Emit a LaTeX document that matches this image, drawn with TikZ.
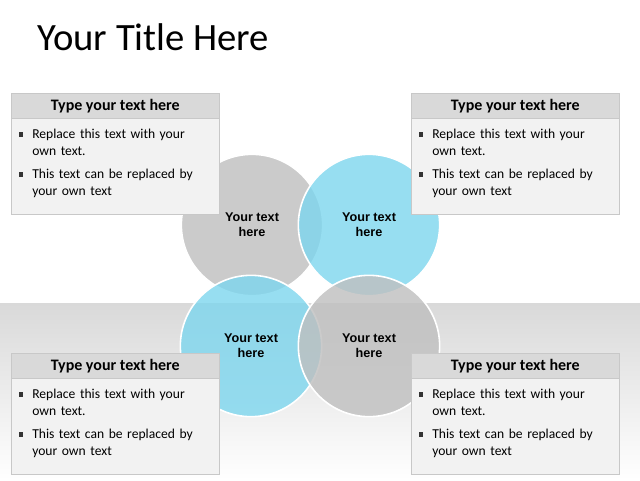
\documentclass[tikz,border=0pt]{standalone}
\usepackage{fontspec}
\setmainfont{Carlito}
\newfontfamily\arialfont{Liberation Sans}
\usetikzlibrary{positioning}

\definecolor{headgray}{HTML}{D9D9D9}
\definecolor{bodygray}{HTML}{F2F2F2}
\definecolor{edgegray}{HTML}{C8C8C8}
\definecolor{ringgray}{HTML}{BFBFBF}
\definecolor{ringblue}{HTML}{7DD6EE}

\tikzset{
  head/.style={draw=edgegray, fill=headgray, minimum width=156pt, minimum height=18.75pt,
    inner sep=0pt, font=\fontsize{12}{14}\selectfont\bfseries, anchor=north west},
  body/.style={draw=edgegray, fill=bodygray, minimum width=156pt, minimum height=72pt,
    inner sep=0pt, anchor=north west},
  item/.style={text width=124pt, align=left, inner sep=0pt, anchor=north west,
    font=\fontsize{10.2}{12.7}\selectfont},
  ring/.style={circle, minimum size=106pt, draw=white, line width=1.2pt, fill opacity=0.8,
    text opacity=1, align=center, font=\arialfont\fontsize{9.5}{11.5}\selectfont\bfseries},
}

% one text box: name, x, y (pixels)
\newcommand{\infobox}[3]{%
  \node[head] (#1h) at (#2,#3) {Type your text here};
  \node[body] (#1b) at (#2,#3+25) {};
  \fill[black!80] (#2+7.5,#3+39) rectangle ++(4.5,4.5);
  \node[item] (#1i) at (#2+21,#3+36) {Replace this text with your own text.};
  \fill[black!80] (#2+7.5,#3+79) rectangle ++(4.5,4.5);
  \node[item] (#1j) at (#2+21,#3+76) {This text can be replaced by your own text};
}

\begin{document}
\begin{tikzpicture}[x=0.75pt,y=-0.75pt]

\useasboundingbox (0,0) rectangle (640,480);
\fill[white] (0,0) rectangle (640,480);

% lower band
\shade[top color=headgray, bottom color=white] (0,303) rectangle (640,480);

\node[anchor=base west, inner sep=0pt, font=\fontsize{29}{33}\selectfont] (title) at (37,50) {Your Title Here};

% circles
\node[ring, fill=ringgray] (tl) at (252,225) {Your text\\here};
\node[ring, fill=ringblue] (tr) at (369,225) {Your text\\here};
\node[ring, fill=ringblue] (bl) at (251,346) {Your text\\here};
\node[ring, fill=ringgray] (br) at (369,346) {Your text\\here};

% boxes
\infobox{a}{11}{93}
\infobox{b}{411}{93}
\infobox{c}{11}{353}
\infobox{d}{411}{353}

\end{tikzpicture}
\end{document}
